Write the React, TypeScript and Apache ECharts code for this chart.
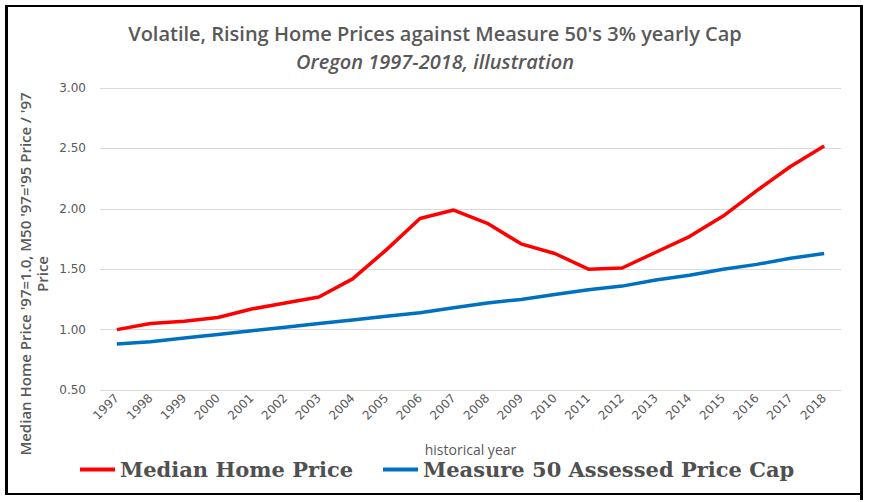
import React, { useEffect, useRef } from "react";
import * as echarts from "echarts";

const years = [
  "1997", "1998", "1999", "2000", "2001", "2002", "2003", "2004", "2005", "2006", "2007",
  "2008", "2009", "2010", "2011", "2012", "2013", "2014", "2015", "2016", "2017", "2018",
];

const medianHomePrice = [
  1.0, 1.05, 1.07, 1.1, 1.17, 1.22, 1.27, 1.42, 1.66, 1.92, 1.99,
  1.88, 1.71, 1.63, 1.5, 1.51, 1.64, 1.77, 1.94, 2.15, 2.35, 2.52,
];

const measure50Cap = [
  0.88, 0.9, 0.93, 0.96, 0.99, 1.02, 1.05, 1.08, 1.11, 1.14, 1.18,
  1.22, 1.25, 1.29, 1.33, 1.36, 1.41, 1.45, 1.5, 1.54, 1.59, 1.63,
];

const yTicks = { min: 0.5, max: 3.0, interval: 0.5 };

const GRAY = "#595959";
const RED = "#ff0000";
const BLUE = "#0070c0";
const SANS = "'Open Sans', sans-serif";
const LABEL_FONT = "'DejaVu Sans', sans-serif";
const LEGEND_FONT = "'DejaVu Serif', serif";

export default function App() {
  const ref = useRef<HTMLDivElement>(null);

  useEffect(() => {
    if (!ref.current) return;
    const chart = echarts.init(ref.current, undefined, { renderer: "svg" });

    const legendText = {
      color: "#505050",
      fontFamily: LEGEND_FONT,
      fontWeight: "bold" as const,
      fontSize: 21,
      lineHeight: 20,
    };

    chart.setOption({
      animation: false,
      backgroundColor: "#ffffff",
      title: [
        {
          text: "Volatile, Rising Home Prices against Measure 50's 3% yearly Cap",
          left: "center",
          top: 18,
          textStyle: { color: GRAY, fontFamily: SANS, fontSize: 20, fontWeight: 600 },
        },
        {
          text: "Oregon 1997-2018, illustration",
          left: "center",
          top: 46,
          textStyle: {
            color: GRAY,
            fontFamily: SANS,
            fontSize: 20,
            fontWeight: 600,
            fontStyle: "italic",
          },
        },
      ],
      legend: [
        {
          data: ["Median Home Price"],
          left: 80,
          top: 459,
          padding: 0,
          icon: "rect",
          itemWidth: 35,
          itemHeight: 4,
          textStyle: legendText,
        },
        {
          data: ["Measure 50 Assessed Price Cap"],
          left: 383,
          top: 459,
          padding: 0,
          icon: "rect",
          itemWidth: 35,
          itemHeight: 4,
          textStyle: legendText,
        },
      ],
      grid: { left: 100, right: 29, top: 88, bottom: 112, containLabel: false },
      xAxis: {
        type: "category",
        data: years,
        boundaryGap: true,
        name: "historical year",
        nameLocation: "middle",
        nameGap: 52,
        nameTextStyle: { color: GRAY, fontFamily: SANS, fontSize: 14, lineHeight: 14 },
        axisLine: { show: false },
        axisTick: { show: false },
        axisLabel: {
          rotate: 45,
          interval: 0,
          margin: 6,
          color: GRAY,
          fontFamily: LABEL_FONT,
          fontSize: 12,
        },
      },
      yAxis: {
        type: "value",
        min: yTicks.min,
        max: yTicks.max,
        interval: yTicks.interval,
        axisLine: { show: false },
        axisTick: { show: false },
        axisLabel: {
          margin: 14,
          color: GRAY,
          fontFamily: LABEL_FONT,
          fontSize: 12,
          formatter: (v: number) => v.toFixed(2),
        },
        splitLine: { lineStyle: { color: "#d9d9d9", width: 1 } },
      },
      series: [
        {
          name: "Median Home Price",
          type: "line",
          data: medianHomePrice,
          symbol: "none",
          color: RED,
          lineStyle: { color: RED, width: 3.5 },
          z: 3,
        },
        {
          name: "Measure 50 Assessed Price Cap",
          type: "line",
          data: measure50Cap,
          symbol: "none",
          color: BLUE,
          lineStyle: { color: BLUE, width: 3.5 },
          z: 2,
        },
      ],
      graphic: [
        {
          type: "text",
          x: 33,
          y: 274,
          rotation: Math.PI / 2,
          style: {
            text: "Median Home Price '97=1.0, M50 '97='95 Price / '97\nPrice",
            fill: GRAY,
            font: `600 15px ${SANS}`,
            align: "center",
            verticalAlign: "middle",
            lineHeight: 17,
          },
        },
        // frame around the chart
        { type: "rect", shape: { x: 5, y: 5, width: 3, height: 490 }, style: { fill: "#000" } },
        { type: "rect", shape: { x: 5, y: 5, width: 858, height: 2 }, style: { fill: "#000" } },
        { type: "rect", shape: { x: 860, y: 5, width: 3, height: 495 }, style: { fill: "#000" } },
        { type: "rect", shape: { x: 5, y: 493, width: 858, height: 2 }, style: { fill: "#000" } },
      ],
    });

    return () => chart.dispose();
  }, []);

  return (
    <div
      ref={ref}
      style={{ position: "fixed", left: 0, top: 0, width: 870, height: 502, background: "#fff" }}
    />
  );
}
